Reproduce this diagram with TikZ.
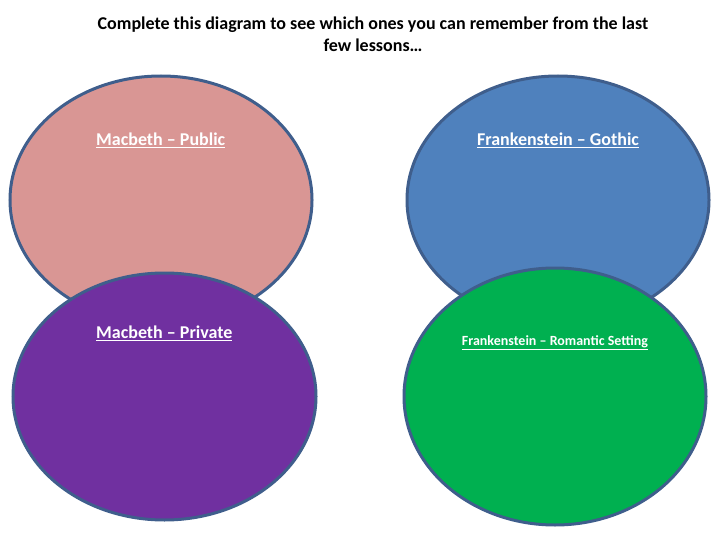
\documentclass[tikz,border=0pt]{standalone}
\usepackage{fontspec}
\setmainfont{Carlito}
\usepackage{tikz}
\usetikzlibrary{shapes.geometric,positioning}

\definecolor{rimblue}{HTML}{3F5E8C}
\definecolor{pubpink}{HTML}{D99694}
\definecolor{gothblue}{HTML}{4F81BD}
\definecolor{privpurple}{HTML}{7030A0}
\definecolor{romgreen}{HTML}{00B050}

\tikzset{
    bubble/.style={ellipse, draw=rimblue, line width=3pt, inner sep=0pt},
    heading/.style={text=white, font=\bfseries\fontsize{18}{22}\selectfont, inner sep=0pt}
}

\begin{document}
\begin{tikzpicture}[x=1pt, y=-1pt]
    \useasboundingbox (0,0) rectangle (720,540);

    % Title
    \node [align=center, font=\bfseries\fontsize{18}{22}\selectfont, inner sep=0pt] (title) at (373,34)
        {Complete this diagram to see which ones you can remember from the last\\few lessons\dots};

    % Top pair, then bottom pair on top of them
    \foreach \nm/\x/\y/\w/\h/\col in {pub/161/200/302/248/pubpink, goth/558/200/302/248/gothblue,
                                     priv/164.5/396.5/303/247/privpurple, rom/555/396.5/302/257/romgreen} {
        \node [bubble, fill=\col, minimum width=\w pt, minimum height=\h pt] (\nm) at (\x,\y) {};
    }

    % Labels
    \node [heading, anchor=west] (publab) at (96,140) {\underline{Macbeth -- Public}};
    \node [heading] (gothlab) at (558,140) {\underline{Frankenstein -- Gothic}};
    \node [heading, anchor=west] (privlab) at (96,333) {\underline{Macbeth -- Private}};
    \node [heading, font=\bfseries\fontsize{14}{17}\selectfont] (romlab) at (555,343) {\underline{Frankenstein -- Romantic Setting}};
\end{tikzpicture}
\end{document}
